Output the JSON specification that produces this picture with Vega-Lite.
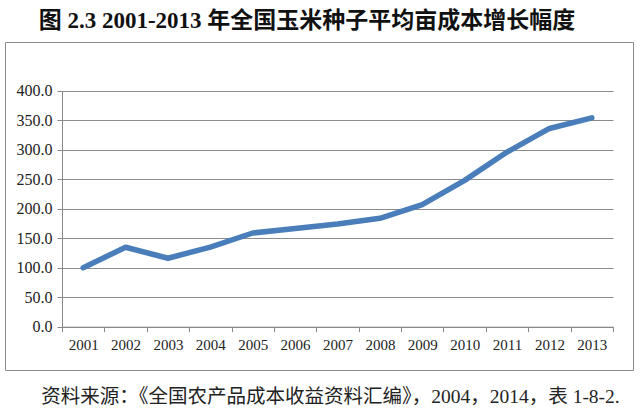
{
  "$schema": "https://vega.github.io/schema/vega-lite/v6.json",
  "autosize": {"type": "none"},
  "padding": {"left": 5, "top": 42, "right": 7, "bottom": 42},
  "width": 628,
  "height": 328,
  "background": "white",
  "title": {
    "text": "图 2.3 2001-2013 年全国玉米种子平均亩成本增长幅度",
    "font": "Liberation Serif, Noto Sans CJK SC",
    "fontSize": 23,
    "fontWeight": "bold",
    "color": "#111111",
    "anchor": "middle",
    "dx": -12,
    "offset": 9
  },
  "data": {
    "values": [
      {"year": "2001", "value": 100.0},
      {"year": "2002", "value": 134.6},
      {"year": "2003", "value": 116.0},
      {"year": "2004", "value": 135.0},
      {"year": "2005", "value": 158.8},
      {"year": "2006", "value": 166.6},
      {"year": "2007", "value": 174.0},
      {"year": "2008", "value": 183.7},
      {"year": "2009", "value": 207.0},
      {"year": "2010", "value": 248.0},
      {"year": "2011", "value": 296.0},
      {"year": "2012", "value": 336.0},
      {"year": "2013", "value": 354.0}
    ]
  },
  "mark": {"type": "line", "color": "#4a7ebb", "strokeWidth": 5.5, "strokeCap": "round", "strokeJoin": "round"},
  "encoding": {
    "x": {
      "field": "year",
      "type": "ordinal",
      "scale": {"type": "band", "range": [57, 608], "paddingInner": 0, "paddingOuter": 0},
      "axis": {
        "title": "资料来源：《全国农产品成本收益资料汇编》，2004，2014，表 1-8-2.",
        "titleFont": "Liberation Serif, Noto Sans CJK SC",
        "titleFontSize": 19.5,
        "titleFontWeight": "normal",
        "titleColor": "#222222",
        "titleAnchor": "start",
        "titleAlign": "center",
        "titleBaseline": "middle",
        "titleX": 325,
        "titleY": 70,
        "offset": -43.3,
        "labelAngle": 0,
        "labelFont": "Liberation Serif",
        "labelFontSize": 15,
        "labelColor": "#222222",
        "labelPadding": 6,
        "tickBand": "extent",
        "tickSize": 5,
        "tickColor": "#888888",
        "domainColor": "#888888",
        "grid": false
      }
    },
    "y": {
      "field": "value",
      "type": "quantitative",
      "scale": {"domain": [0, 400], "range": [284.7, 48.7], "nice": false, "zero": true},
      "axis": {
        "title": null,
        "offset": -57,
        "values": [0, 50, 100, 150, 200, 250, 300, 350, 400],
        "format": ".1f",
        "labelFont": "Liberation Serif",
        "labelFontSize": 16,
        "labelColor": "#222222",
        "labelPadding": 5,
        "tickSize": 5,
        "tickColor": "#888888",
        "domainColor": "#888888",
        "grid": true,
        "gridColor": "#8c8c8c",
        "gridWidth": 1
      }
    }
  },
  "config": {
    "view": {"stroke": "#8c8c8c", "strokeWidth": 1}
  }
}
